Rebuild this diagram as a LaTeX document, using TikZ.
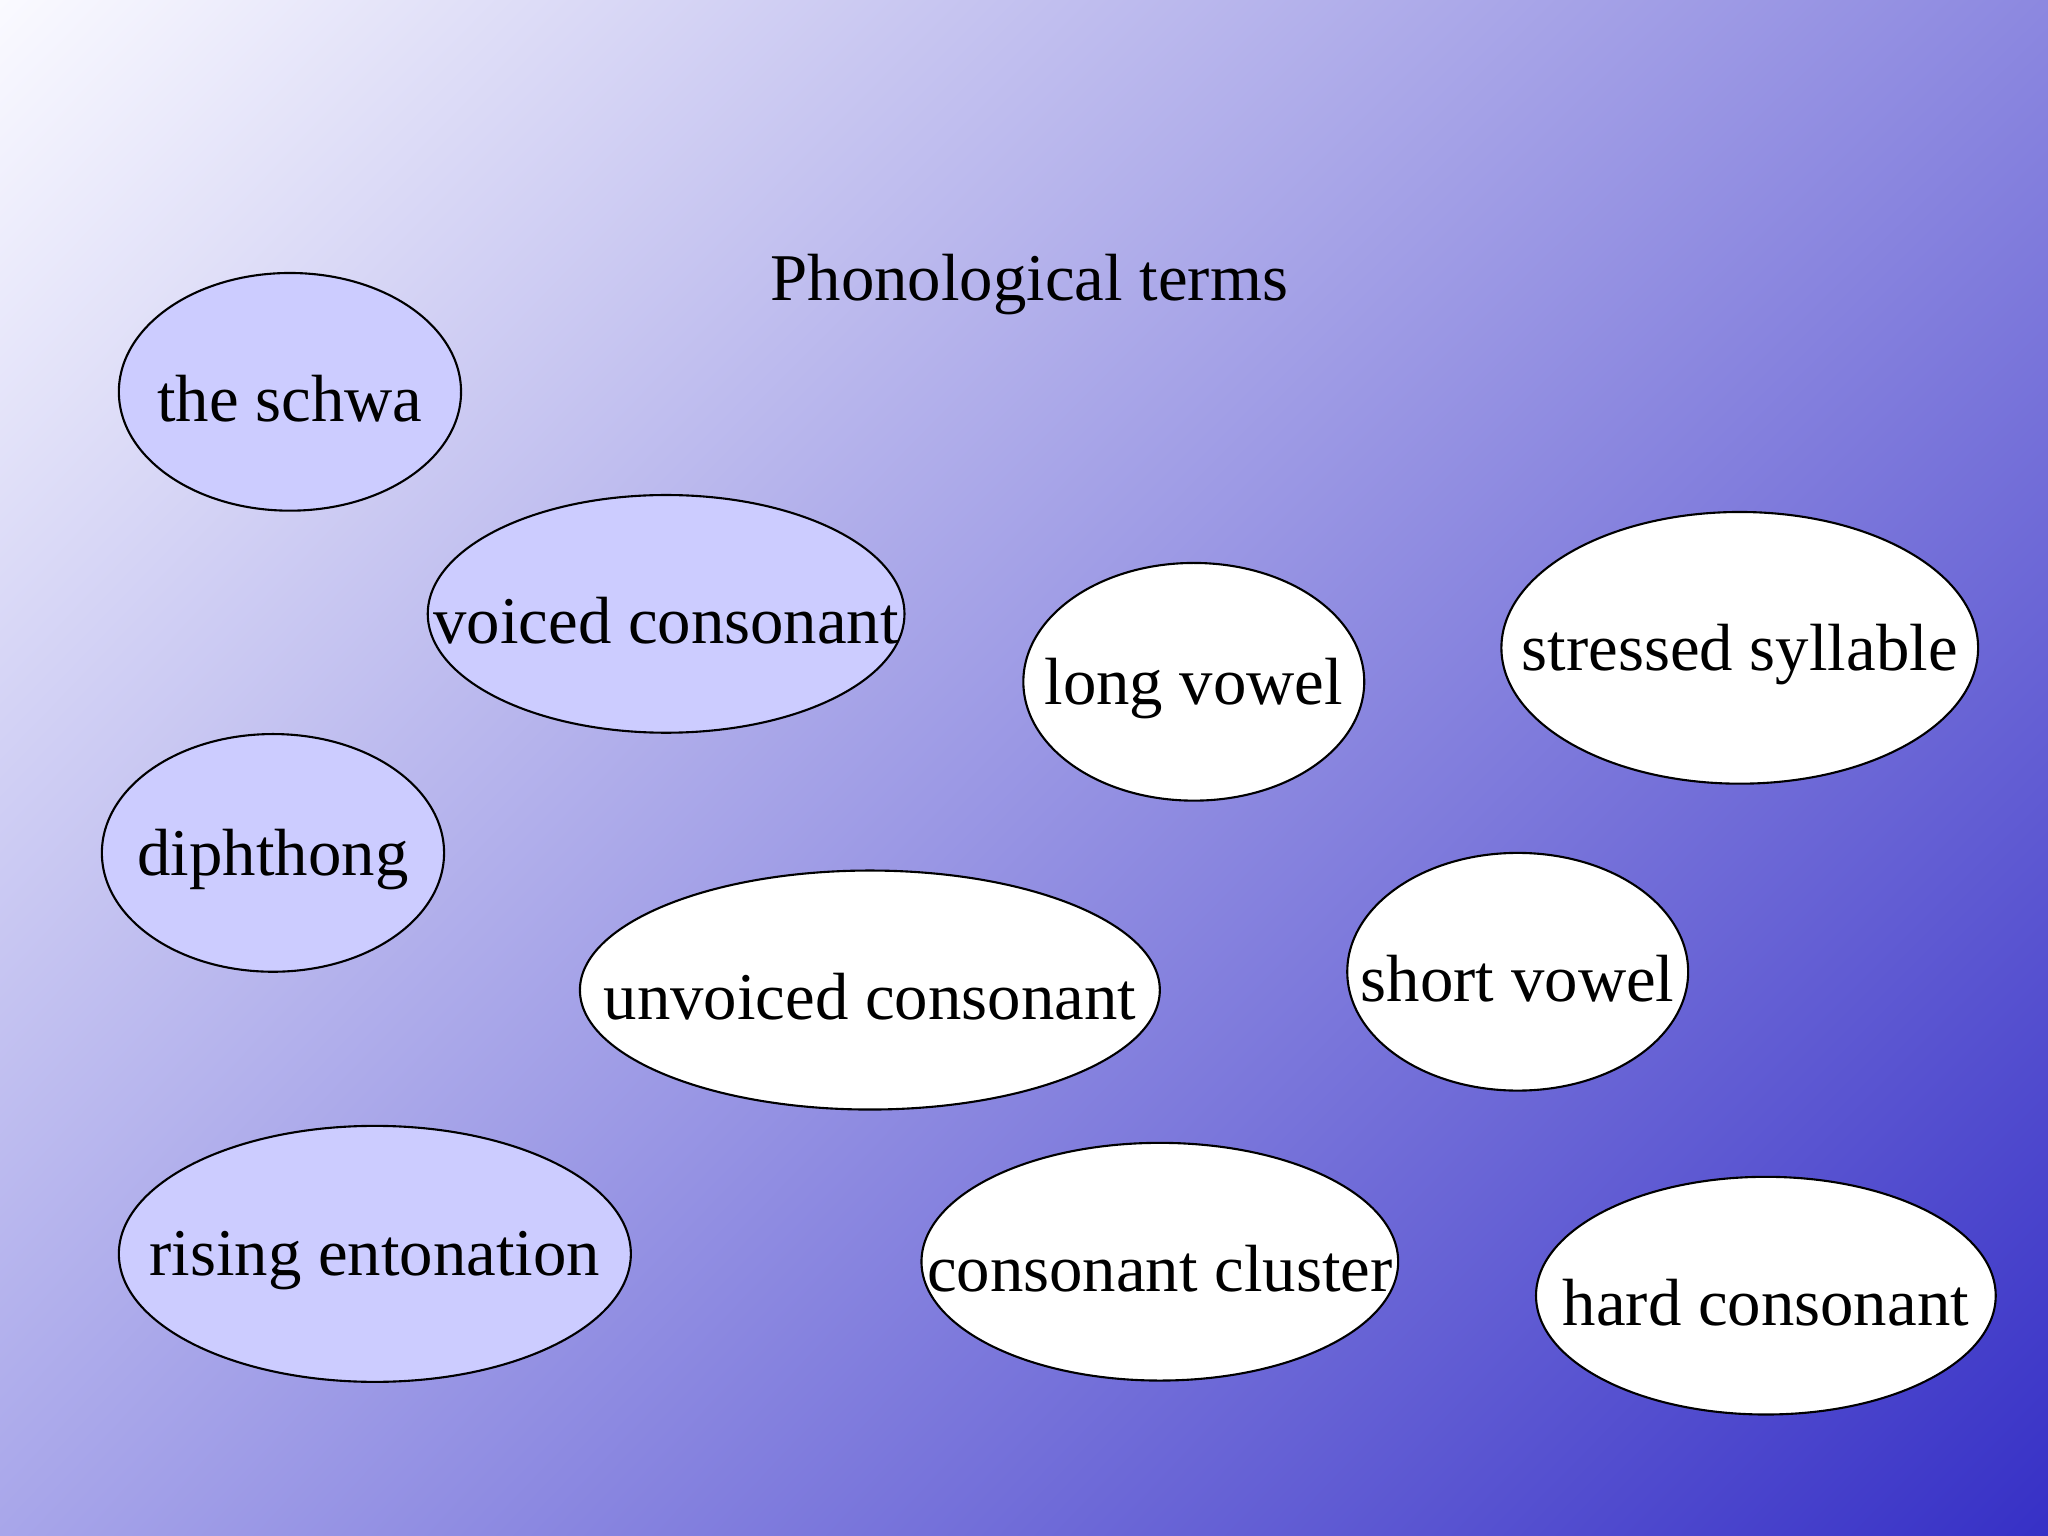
\documentclass[tikz,border=0pt]{standalone}
\usepackage{fontspec}
\setmainfont{Liberation Serif}
\usetikzlibrary{shapes.geometric,shadings}
\definecolor{bgTL}{HTML}{FAFAFF}
\definecolor{bgTR}{HTML}{8C88E0}
\definecolor{bgBL}{HTML}{A8A6EA}
\definecolor{bgBR}{HTML}{3630C6}
\definecolor{lav}{HTML}{CCCCFF}
\tikzset{
  bubble/.style={ellipse, draw=black, line width=0.6pt, inner sep=0pt},
  lavbubble/.style={bubble, fill=lav},
  whitebubble/.style={bubble, fill=white},
  term/.style={font=\fontsize{19pt}{22pt}\selectfont, inner sep=0pt, yshift=-0.065cm},
}
\begin{document}
\begin{tikzpicture}[x=0.013061cm, y=-0.013061cm]
\shade[upper left=bgTL, upper right=bgTR, lower left=bgBL, lower right=bgBR] (0,0) rectangle (1568,1176);
\useasboundingbox (0,0) rectangle (1568,1176);
\node[term] (title) at (788,213) {Phonological terms};
% ellipses: minimum width = 2*rx*0.013061cm
\node[lavbubble, minimum width=3.422cm, minimum height=2.377cm] (e1) at (222,300) {};
\node[term] (t1) at (e1) {the schwa};
\node[lavbubble, minimum width=4.767cm, minimum height=2.377cm] (e2) at (510,470) {};
\node[term] (t2) at (e2) {voiced consonant};
\node[whitebubble, minimum width=3.409cm, minimum height=2.377cm] (e3) at (914,522) {};
\node[term] (t3) at (e3) {long vowel};
\node[whitebubble, minimum width=4.767cm, minimum height=2.717cm] (e4) at (1332,496) {};
\node[term] (t4) at (e4) {stressed syllable};
\node[lavbubble, minimum width=3.422cm, minimum height=2.377cm] (e5) at (209,653) {};
\node[term] (t5) at (e5) {diphthong};
\node[whitebubble, minimum width=5.799cm, minimum height=2.390cm] (e6) at (666,758) {};
\node[term] (t6) at (e6) {unvoiced consonant};
\node[whitebubble, minimum width=3.409cm, minimum height=2.377cm] (e7) at (1162,744) {};
\node[term] (t7) at (e7) {short vowel};
\node[lavbubble, minimum width=5.120cm, minimum height=2.560cm] (e8) at (287,960) {};
\node[term] (t8) at (e8) {rising entonation};
\node[whitebubble, minimum width=4.767cm, minimum height=2.377cm] (e9) at (888,966) {};
\node[term] (t9) at (e9) {consonant cluster};
\node[whitebubble, minimum width=4.597cm, minimum height=2.377cm] (e10) at (1352,992) {};
\node[term] (t10) at (e10) {hard consonant};
\end{tikzpicture}
\end{document}
